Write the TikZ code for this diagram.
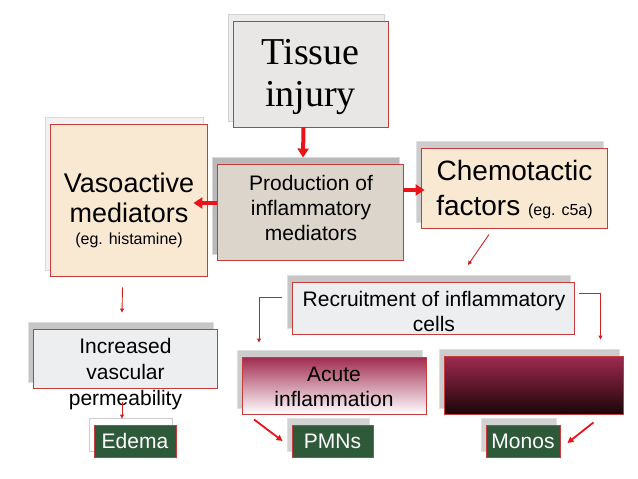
\documentclass[tikz,border=0pt]{standalone}
\usepackage{fontspec}
\setmainfont{Liberation Sans}
\newfontfamily\serifx{Liberation Serif}
\usetikzlibrary{arrows.meta,backgrounds,calc}
\definecolor{boxred}{HTML}{C43C3C}
\definecolor{arrred}{HTML}{E8141A}
\definecolor{thinred}{HTML}{CC2222}
\definecolor{granite}{HTML}{E9E7E5}
\definecolor{parch}{HTML}{F9E9D3}
\definecolor{stone}{HTML}{DCD5CB}
\definecolor{marble}{HTML}{EDEEF0}
\definecolor{felt}{HTML}{2F5A3A}
\definecolor{maroon}{HTML}{A02A50}
\definecolor{darkend}{HTML}{1A0508}
\newcommand\boxshadow[3]{\fill[#2,draw=#3,line width=0.6pt] ([shift={(-4,-6)}]#1.north west) rectangle ([shift={(-4,-6)}]#1.south east);}
\begin{document}
\begin{tikzpicture}[x=1pt,y=-1pt,
  box/.style={draw=boxred, line width=0.9pt, inner sep=0pt, rectangle},
  txt/.style={align=center, inner sep=0pt},
  bigarrow/.style={draw=arrred, line width=4pt, -{Triangle[width=11pt,length=9pt]}},
  midarrow/.style={draw=arrred, line width=1.8pt, -{Triangle[width=6pt,length=6pt]}},
  thinarrow/.style={draw=thinred, line width=0.9pt, -{Triangle[width=4pt,length=4pt]}}]
\useasboundingbox (0,0) rectangle (638,479);
% boxes
\node[box, fill=granite, minimum width=155pt, minimum height=106pt] (tissue) at (310.5,74) {};
\node[box, fill=parch, minimum width=157pt, minimum height=152pt] (vaso) at (128.5,200) {};
\node[box, fill=stone, minimum width=186pt, minimum height=96pt] (prod) at (310,212) {};
\node[box, fill=parch, minimum width=186pt, minimum height=80pt] (chem) at (514,188) {};
\node[box, fill=marble, minimum width=184pt, minimum height=59pt] (incr) at (125,358.5) {};
\node[box, fill=felt, minimum width=82pt, minimum height=32pt] (edema) at (135,441) {};
\node[box, fill=marble, minimum width=282pt, minimum height=52pt] (recr) at (433,308) {};
\node[box, top color=maroon, bottom color=white, minimum width=184pt, minimum height=57pt] (acute) at (334,385.5) {};
\node[box, top color=maroon, bottom color=darkend, minimum width=179pt, minimum height=58pt] (dark) at (533.5,385) {};
\node[box, fill=felt, minimum width=81pt, minimum height=32pt] (pmn) at (332.5,441) {};
\node[box, fill=felt, minimum width=74pt, minimum height=32pt] (mono) at (523,441) {};
% shadows
\begin{scope}[on background layer]
\boxshadow{tissue}{gray!15}{gray!35}
\boxshadow{vaso}{gray!10}{gray!30}
\boxshadow{prod}{gray!55}{gray!30}
\boxshadow{chem}{gray!40}{gray!25}
\boxshadow{incr}{gray!45}{gray!25}
\boxshadow{edema}{white}{gray!40}
\boxshadow{recr}{gray!45}{gray!25}
\boxshadow{acute}{gray!40}{gray!25}
\boxshadow{dark}{gray!40}{gray!25}
\boxshadow{pmn}{gray!35}{gray!25}
\boxshadow{mono}{gray!35}{gray!25}
\end{scope}
% texts
\node[txt, font=\serifx\fontsize{38}{42}\selectfont] (tissuet) at (310.5,77) {Tissue\\injury};
\node[txt, font=\fontsize{27}{30}\selectfont] (vasot) at (129,210) {Vasoactive\\mediators\\[-8pt]{\fontsize{16}{20}\selectfont (eg. histamine)}};
\node[txt, font=\fontsize{21}{25}\selectfont] (prodt) at (311,207.5) {Production of\\inflammatory\\mediators};
\node[txt, font=\fontsize{28}{35}\selectfont] (chemt) at (514.5,190) {Chemotactic\\factors {\fontsize{16}{20}\selectfont (eg. c5a)}};
\node[txt, font=\fontsize{21}{26}\selectfont] (incrt) at (125.5,374) {Increased\\vascular\\permeability};
\node[txt, font=\fontsize{21}{25}\selectfont, text=white] (edemat) at (edema) {Edema};
\node[txt, font=\fontsize{21}{25}\selectfont] (recrt) at (434,311) {Recruitment of inflammatory\\cells};
\node[txt, font=\fontsize{21}{25}\selectfont] (acutet) at (334,387) {Acute\\inflammation};
\node[txt, font=\fontsize{21}{25}\selectfont, text=white] (pmnt) at (pmn) {PMNs};
\node[txt, font=\fontsize{21}{25}\selectfont, text=white] (monot) at (mono) {Monos};
% connectors
\draw[bigarrow] ([shift={(-7,0)}]tissue.south) -- ([shift={(-7,-6)}]prod.north);
\draw[bigarrow] ([shift={(0,-9)}]prod.west) -- ([shift={(-14,3)}]vaso.east);
\draw[bigarrow] ([shift={(0,-22)}]prod.east) -- ([shift={(4,2)}]chem.west);
\coordinate (chemend) at (468,265);
\draw[thinarrow] ([shift={(-25,6)}]chem.south) -- (chemend);
\draw[thinarrow] ([shift={(-6,11)}]vaso.south) -- ([shift={(-3,-16)}]incr.north);
\coordinate (incrstart) at (122,402);
\draw[thinarrow] (incrstart) -- ([shift={(-13,-6)}]edema.north);
\coordinate (rl) at (282,297);
\coordinate (rr) at (579,293);
\draw[thinarrow] (rl) -| ([shift={(-75,-14)}]acute.north);
\draw[thinarrow] (rr) -| ([shift={(67,-16)}]dark.north);
\draw[midarrow] ([shift={(-80,5)}]acute.south) -- ([shift={(-9,0)}]pmn.west);
\draw[midarrow] ([shift={(60,8)}]dark.south) -- ([shift={(7,2)}]mono.east);
\end{tikzpicture}
\end{document}
